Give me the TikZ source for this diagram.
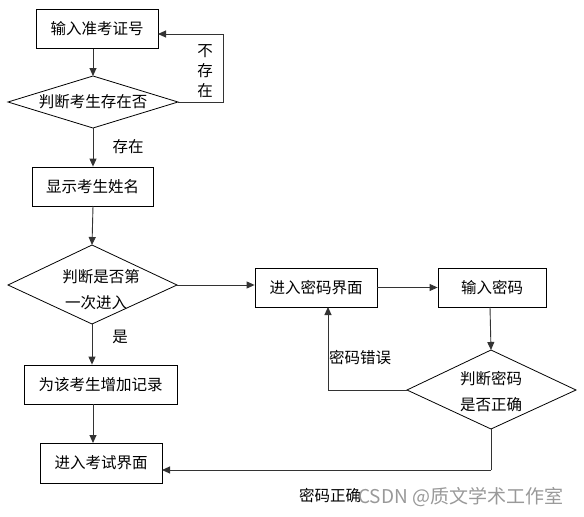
\documentclass[tikz,border=0pt]{standalone}
\usepackage{fontspec}
\setmainfont{Noto Sans CJK SC}
\usetikzlibrary{arrows.meta,shapes.geometric}
\begin{document}
\begin{tikzpicture}[x=1pt,y=-1pt,
  every node/.style={font=\fontsize{15.5}{20}\selectfont},
  box/.style={draw, line width=0.8pt, inner sep=0pt},
  dia/.style={draw, line width=0.8pt, inner sep=0pt},
  conn/.style={draw=black!80, line width=0.9pt, -{Triangle[length=8pt,width=7pt]}},
  line/.style={draw=black!80, line width=0.9pt},
  lbl/.style={inner sep=0pt}]
\useasboundingbox (0,0) rectangle (584,517);
% boxes
\node[box, minimum width=122pt, minimum height=39pt] (b1) at (97,29) {输入准考证号};
\node[box, minimum width=121pt, minimum height=39pt] (b2) at (92.5,186.5) {显示考生姓名};
\node[box, minimum width=153pt, minimum height=39pt] (b3) at (100.5,384.5) {为该考生增加记录};
\node[box, minimum width=122pt, minimum height=40pt] (b4) at (101,463) {进入考试界面};
\node[box, minimum width=122pt, minimum height=39pt] (b5) at (316,287.5) {进入密码界面};
\node[box, minimum width=108pt, minimum height=39pt] (b6) at (492,287.5) {输入密码};
% diamonds
\path[dia] (8,102) coordinate (d1w) -- (93,76) coordinate (d1n) -- (178,102) coordinate (d1e) -- (93,128) coordinate (d1s) -- cycle;
\node[lbl] (d1t) at (93,102) {判断考生存在否};
\path[dia] (8,285) coordinate (d2w) -- (92,245) coordinate (d2n) -- (177,285) coordinate (d2e) -- (92,324) coordinate (d2s) -- cycle;
\node[lbl] (d2a) at (101,277) {判断是否第};
\node[lbl] (d2b) at (96,303) {一次进入};
\path[dia] (407,390) coordinate (d3w) -- (491,350) coordinate (d3n) -- (576,390) coordinate (d3e) -- (491,429) coordinate (d3s) -- cycle;
\node[lbl] (d3a) at (491,379) {判断密码};
\node[lbl] (d3b) at (491,405) {是否正确};
% helper coordinates
\coordinate (b1a) at (93,48.5);
\coordinate (f1) at (223,102);
\coordinate (f2) at (223,34);
\coordinate (b1r) at (158,34);
\coordinate (b2a) at (93,206);
\coordinate (b3a) at (93,404);
\coordinate (b4a) at (93,443);
\coordinate (b6a) at (490,307);
\coordinate (e1) at (328,390);
\coordinate (b5b) at (328,307);
\coordinate (c1) at (491,470);
\coordinate (b4r) at (162,470);
% connectors
\draw[conn] (b1a) -- (d1n);
\draw[line] (d1e) -- (f1) -- (f2);
\draw[conn] (f2) -- (b1r);
\draw[conn] (d1s) -- (b2.north -| d1s);
\draw[conn] (b2a) -- (d2n);
\draw[conn] (d2s) -- (b3.north -| d2s);
\draw[conn] (b3a) -- (b4a);
\draw[conn] (d2e) -- (b5.west |- d2e);
\draw[conn] (b5.east) -- (b6.west);
\draw[conn] (b6a) -- (d3n);
\draw[line] (d3w) -- (e1);
\draw[conn] (e1) -- (b5b);
\draw[line] (d3s) -- (c1);
\draw[conn] (c1) -- (b4r);
% labels
\node[lbl, align=center, font=\fontsize{15.5}{20}\selectfont] (l1) at (205,71) {不\\存\\在};
\node[lbl] (l2) at (128,147) {存在};
\node[lbl] (l3) at (120,337) {是};
\node[lbl] (l4) at (360,358) {密码错误};
\node[lbl] (l5) at (330,496) {密码正确};
\node[lbl, text=black!40, anchor=west, font=\fontsize{19}{22}\selectfont] (wm) at (358,497) {CSDN @质文学术工作室};
\end{tikzpicture}
\end{document}
